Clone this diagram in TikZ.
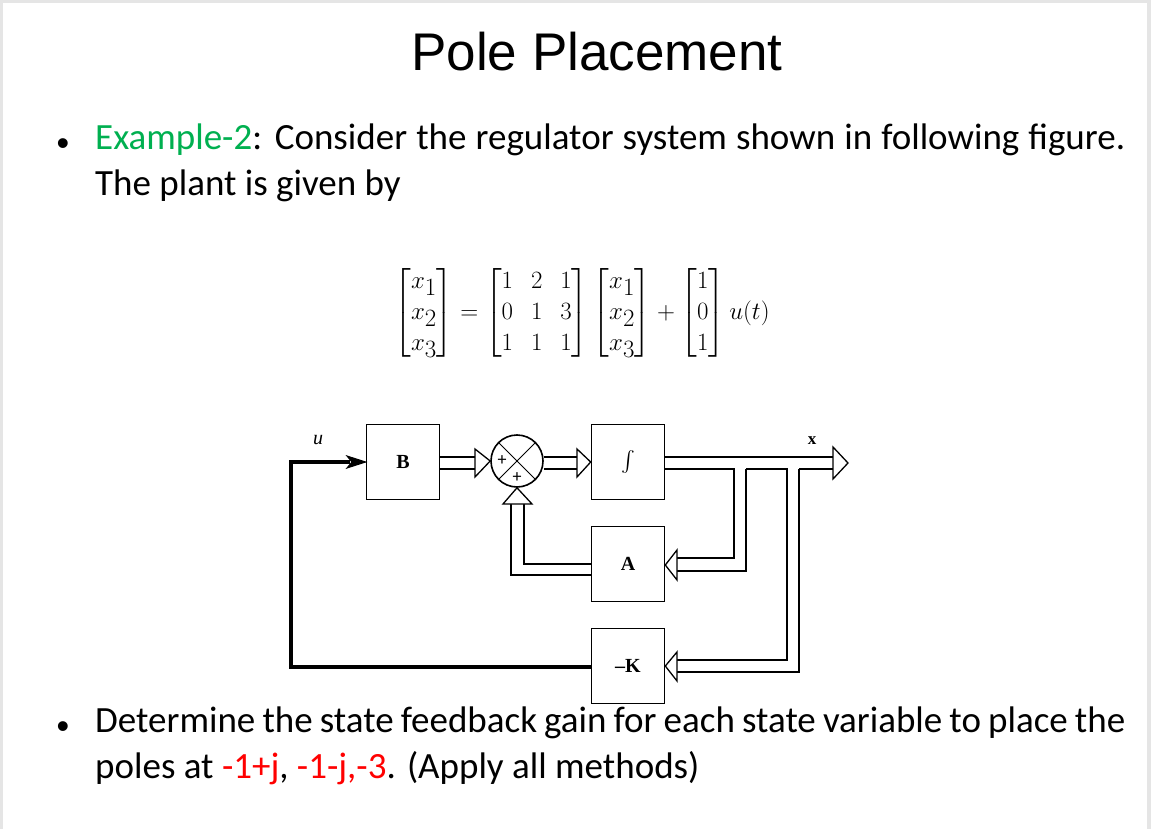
\documentclass[tikz,border=0pt]{standalone}
\usepackage{amsmath}
\usepackage{fontspec}
\setmainfont{Carlito}
\newfontfamily\arialf{Liberation Sans}
\newfontfamily\timesf{Liberation Serif}
\usetikzlibrary{calc}
\definecolor{grn}{RGB}{0,176,80}
\definecolor{rd}{RGB}{255,0,0}
\begin{document}
\begin{tikzpicture}[x=1pt,y=-1pt,
  blk/.style={draw,line width=1.6pt,minimum width=73pt,minimum height=75pt,font=\timesf\bfseries\fontsize{20}{22}\selectfont},
  dl/.style={line width=1.3pt},
  tri/.style={line width=1.3pt,fill=white},
  thick line/.style={line width=4pt},
  body/.style={anchor=north west,text width=1030pt,align=justify,inner sep=0pt,font=\fontsize{37}{46}\selectfont},
  bul/.style={font=\arialf\fontsize{36}{40}\selectfont}]
\useasboundingbox (0,0) rectangle (1151,829);
\fill[gray!20] (0,0) rectangle (1151,829);
\fill[white] (3,3) rectangle (1147,829);
\node[font=\arialf\fontsize{53}{60}\selectfont] (title) at (597,52) {Pole Placement};
\node[bul] (b1) at (63,147) {•};
\node[body] (t1) at (95,124)
 {\textcolor{grn}{Example-2}: Consider the regulator system shown in following figure. The plant is given by};
\node[font=\fontsize{38}{40}\selectfont] (eq) at (582,313)
 {\setlength{\arraycolsep}{9pt}\renewcommand\arraystretch{0.78}$\begin{bmatrix}x_1\\x_2\\x_3\end{bmatrix}=\begin{bmatrix}1&2&1\\0&1&3\\1&1&1\end{bmatrix}\begin{bmatrix}x_1\\x_2\\x_3\end{bmatrix}+\begin{bmatrix}1\\0\\1\end{bmatrix}u(t)$};
\node[bul] (b2) at (63,730) {•};
\node[body] (t2) at (95,707)
 {Determine the state feedback gain for each state variable to place the poles at \textcolor{rd}{-1+j}, \textcolor{rd}{-1-j,-3}. (Apply all methods)};
% blocks
\node[blk] (B) at (403,462) {B};
\node[blk] (I) at (628,462) {$\int$};
\node[blk] (A) at (628,564) {A};
\node[blk] (K) at (628,666) {\textendash K};
\node[draw,circle,line width=1.6pt,minimum size=52pt,inner sep=0pt] (S) at (517,461) {};
\draw[line width=0.8pt] (S.north west)--(S.south east) (S.north east)--(S.south west);
\node[font=\fontsize{18}{18}\selectfont] (p1) at (502,461) {+};
\node[font=\fontsize{18}{18}\selectfont] (p2) at (517,478) {+};
\node[font=\timesf\itshape\fontsize{20}{20}\selectfont] (u) at (318,440) {u};
\node[font=\timesf\bfseries\fontsize{17}{17}\selectfont] (x) at (812,441) {x};
% B -> S
\draw[dl] (B.east|-0,457) -- (475,457) (B.east|-0,469) -- (475,469);
\draw[tri] (475,449)--(S.west)--(475,477)--cycle;
% S -> I
\draw[dl] (S.east|-0,457) -- (577,457) (S.east|-0,469) -- (577,469);
\draw[tri] (577,449)--(I.west)--(577,477)--cycle;
% output
\coordinate (xo) at (848,463);
\draw[dl] (I.east|-0,457) -- (833,457);
\draw[dl] (I.east|-0,469) -- (734,469) -- (734,558) -- (677,558);
\draw[dl] (746,469) -- (787,469) -- (787,660) -- (677,660);
\draw[dl] (799,469) -- (833,469);
\draw[dl] (746,469) -- (746,571) -- (677,571);
\draw[dl] (799,469) -- (799,672) -- (677,672);
\draw[tri] (833,447)--(xo)--(833,479)--cycle;
\draw[tri] (677,550)--(A.east|-0,565)--(677,580)--cycle;
\draw[tri] (677,652)--(K.east|-0,666)--(677,681)--cycle;
% A -> S
\draw[dl] (A.west|-0,564) -- (524,564) -- (524,504);
\draw[dl] (A.west|-0,575) -- (511,575) -- (511,504);
\draw[tri] (503,504)--(S.south)--(532,504)--cycle;
% feedback
\draw[thick line] (K.west|-0,667) -- (291,667) -- (291,462) -- (350,462);
\draw[line width=1pt,fill] (347,456)--(B.west|-0,462)--(347,468)--(352,462)--cycle;
\end{tikzpicture}
\end{document}
